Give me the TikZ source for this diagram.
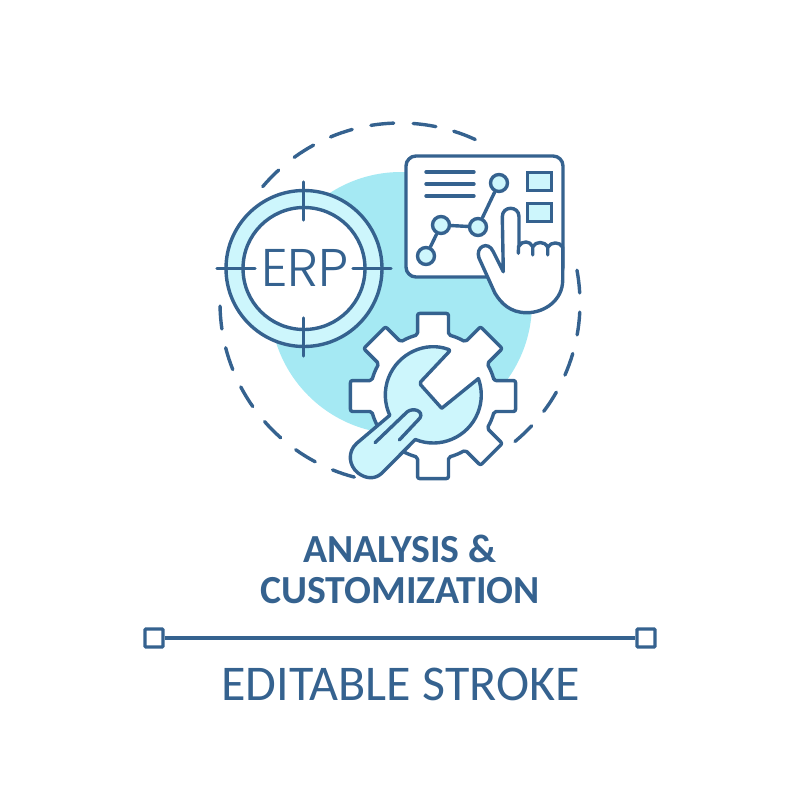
\documentclass[tikz,border=0pt]{standalone}
\usepackage{fontspec}
\setmainfont{Carlito}
\newfontfamily\erpfont{Poppins Light}
\definecolor{strokeblue}{HTML}{35628F}
\definecolor{blobblue}{HTML}{A5E9F3}
\definecolor{paleblue}{HTML}{CDF6FC}
\tikzset{
	iconline/.style={draw=strokeblue,line width=3.4pt,line join=round,line cap=round},
	graphdot/.style={circle,draw=strokeblue,line width=3.4pt,fill=paleblue,minimum size=17pt,inner sep=0pt},
	handlebox/.style={rectangle,draw=strokeblue,line width=3.4pt,fill=white,minimum size=18pt,inner sep=0pt,rounded corners=1pt},
	panelbox/.style={rectangle,draw=strokeblue,line width=3.4pt,fill=paleblue,minimum width=24pt,minimum height=18pt,inner sep=0pt}
}
\begin{document}
\begin{tikzpicture}[x=1pt,y=1pt,yscale=-1]
	\useasboundingbox (0,0) rectangle (800,800);
	\fill[blobblue] (401,303) circle (131);
	% dashed ring
	\begin{scope}[shift={(400,303)}]
		\foreach \a in {-139.7,-126,-112.7,-99.3,-85.8,-72.6,
			-188.3,-201.7,-215.1,-228.5,-241.9,-255.3,
			-10.5,2.9,16.3,29.7,43}
			\draw[iconline] (\a:180) arc[start angle=\a,delta angle=7.3,radius=180];
	\end{scope}
	% target
	\draw[iconline,fill=paleblue] (304,268.5) circle (78);
	\draw[iconline,fill=white] (304,268.5) circle (61);
	\draw[iconline] (303.5,182) -- (303.5,220) (303.5,318) -- (303.5,356)
		(217,268.5) -- (255,268.5) (353,268.5) -- (391,268.5);
	\node[text=strokeblue,font=\erpfont\fontsize{53}{53}\selectfont,inner sep=0pt] (erp) at (305,268) {ERP};
	% panel
	\draw[iconline,fill=white,rounded corners=10pt] (406,156) rectangle (563,277);
	\draw[iconline] (426,172) -- (474,172) (426,184) -- (474,184) (426,196) -- (474,196);
	\node[panelbox] (boxa) at (539.5,181.5) {};
	\node[panelbox] (boxb) at (539.5,212.5) {};
	\node[graphdot] (dota) at (426,256) {};
	\node[graphdot] (dotb) at (441,225) {};
	\node[graphdot] (dotc) at (478,227) {};
	\node[graphdot] (dotd) at (499,183) {};
	\draw[iconline] (dota) -- (dotb);
	\draw[iconline] (dotb) -- (dotc);
	\draw[iconline] (dotc) -- (dotd);
	% hand
	\draw[iconline,fill=white] (503.3,271.7) -- (502.3,216.7)
		.. controls (502.3,205.5) and (519,205.5) .. (519,216.7) -- (519,246)
		.. controls (522,240.5) and (530,240.5) .. (532.7,246.7)
		.. controls (536,241) and (545,241) .. (547.7,247.3)
		.. controls (551,241.5) and (560,241.5) .. (562.7,247.3)
		-- (562.7,280)
		.. controls (562.7,300) and (545,312.7) .. (526.7,312.7)
		.. controls (510,312.7) and (501,303) .. (495,293.3)
		-- (479,258)
		.. controls (475,247) and (488,240) .. (493.3,251.7)
		-- cycle;
	\draw[iconline] (518.6,246) -- (518.3,253.3) (532.7,246.7) -- (532.7,255) (547.7,247.3) -- (547.7,255);
	% gear
	\begin{scope}[shift={(433,396)}]
		\draw[iconline,fill=white,rounded corners=2pt] (-14.2:63)
			\foreach \a in {0,45,...,315} {
				-- (\a-10.6:84) -- (\a+10.6:84) -- (\a+14.2:63)
				arc[start angle=\a+14.2,end angle=\a+30.8,radius=63]
			} -- cycle;
	\end{scope}
	% wrench
	\draw[iconline,fill=paleblue] (450.5,350.2) arc[start angle=-69,end angle=-205,radius=48]
		-- (356.7,443.3)
		.. controls (347,452) and (349,466) .. (358,473)
		.. controls (366,479) and (375,479.5) .. (381.7,473.3)
		-- (415.3,439.5) arc[start angle=112,end angle=-20,radius=48]
		-- (441.7,408.3) [rounded corners=2pt] -- (419.3,383.3) -- cycle;
	\draw[iconline] (375,442.7) -- (407,412) .. controls (413,407) and (424,411) .. (420,418) -- (399.3,440);
	% labels
	\node[text=strokeblue,font=\bfseries\fontsize{39.8}{40}\selectfont,anchor=base,inner sep=0pt] (titlea) at (400,562) {ANALYSIS \&};
	\node[text=strokeblue,font=\bfseries\fontsize{39.8}{40}\selectfont,anchor=base,inner sep=0pt] (titleb) at (400,603) {CUSTOMIZATION};
	\node[handlebox] (handlel) at (154,638) {};
	\node[handlebox] (handler) at (646,638) {};
	\draw[iconline,line cap=butt] (handlel) -- (handler);
	\node[text=strokeblue,font=\fontsize{50}{50}\selectfont,anchor=base,inner sep=0pt] (strokelabel) at (400.5,700) {EDITABLE STROKE};
\end{tikzpicture}
\end{document}
